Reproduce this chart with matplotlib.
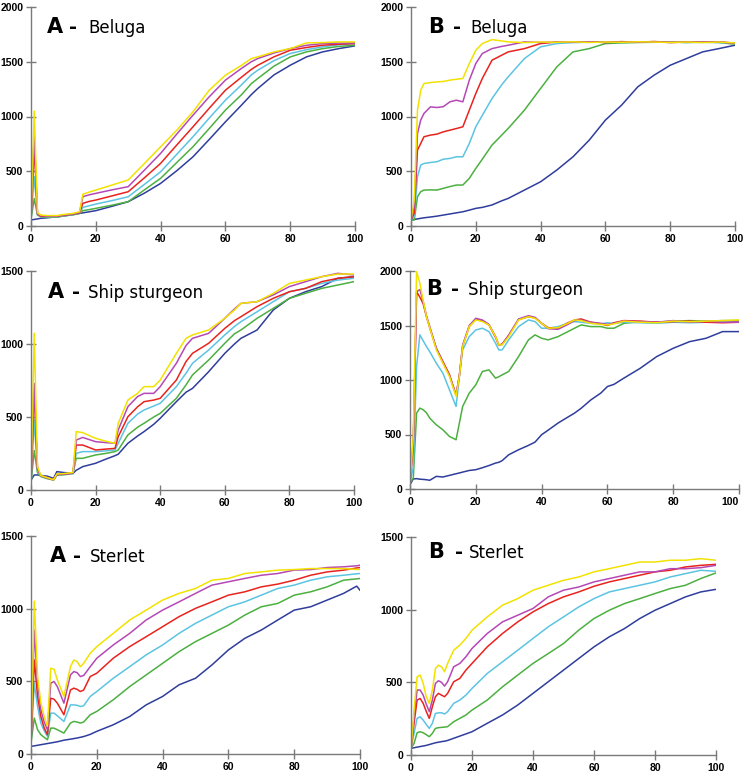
import matplotlib
matplotlib.use("Agg")
import matplotlib.pyplot as plt

# ---------------- data ----------------
SERIES_COLORS = ["#2f3d9c", "#4cb040", "#5cc4e2", "#e8231e", "#b548b5", "#f2e200"]  # blue, green, cyan, red, magenta, yellow

# A - Beluga
A_BELUGA_X = [0, 1, 2, 3, 5, 8, 10, 13, 15, 16, 18, 20, 25, 30, 35, 40, 45, 50, 55, 60, 65, 68, 70, 75, 80, 85, 90, 95, 100]
A_BELUGA_YELLOW = [60, 1050, 120, 100, 95, 95, 105, 115, 130, 290, 310, 328, 374, 420, 571, 723, 875, 1043, 1240, 1377, 1468, 1529, 1544, 1590, 1620, 1672, 1675, 1681, 1681]
A_BELUGA_MAGENTA = [60, 850, 115, 95, 90, 90, 100, 110, 125, 268, 285, 298, 330, 359, 510, 663, 840, 1012, 1180, 1332, 1440, 1500, 1529, 1580, 1620, 1650, 1666, 1670, 1672]
A_BELUGA_RED = [60, 720, 110, 90, 88, 88, 98, 108, 120, 207, 225, 237, 275, 313, 440, 572, 740, 906, 1075, 1240, 1360, 1430, 1468, 1545, 1605, 1630, 1651, 1660, 1666]
A_BELUGA_CYAN = [60, 450, 105, 88, 85, 85, 95, 105, 118, 170, 185, 200, 232, 267, 380, 495, 655, 815, 985, 1149, 1290, 1380, 1423, 1510, 1575, 1610, 1636, 1655, 1666]
A_BELUGA_GREEN = [60, 250, 100, 85, 80, 80, 92, 102, 115, 140, 150, 161, 190, 222, 330, 435, 580, 724, 890, 1058, 1200, 1300, 1347, 1460, 1544, 1590, 1620, 1640, 1651]
A_BELUGA_BLUE = [55, 60, 65, 70, 75, 85, 91, 105, 115, 120, 130, 140, 180, 222, 300, 389, 505, 632, 790, 951, 1105, 1200, 1256, 1380, 1468, 1544, 1590, 1620, 1645]

# B - Beluga
B_BELUGA_X = [0, 1, 2, 3, 4, 6, 8, 10, 12, 14, 16, 18, 20, 22, 25, 28, 30, 35, 40, 45, 50, 55, 60, 65, 70, 75, 80, 85, 90, 95, 100]
B_BELUGA_YELLOW = [55, 237, 1058, 1240, 1301, 1310, 1316, 1320, 1332, 1340, 1347, 1484, 1605, 1666, 1702, 1690, 1681, 1675, 1680, 1678, 1682, 1676, 1680, 1678, 1682, 1680, 1676, 1680, 1675, 1680, 1672]
B_BELUGA_MAGENTA = [55, 176, 845, 967, 1028, 1088, 1082, 1090, 1134, 1149, 1134, 1332, 1484, 1575, 1620, 1640, 1651, 1681, 1676, 1680, 1678, 1682, 1676, 1680, 1678, 1682, 1676, 1680, 1678, 1682, 1670]
B_BELUGA_RED = [55, 116, 693, 754, 815, 830, 839, 860, 875, 890, 906, 1058, 1210, 1347, 1514, 1560, 1590, 1620, 1666, 1680, 1678, 1682, 1676, 1684, 1678, 1685, 1676, 1680, 1678, 1682, 1668]
B_BELUGA_CYAN = [55, 85, 450, 556, 571, 580, 587, 610, 617, 632, 632, 754, 906, 1010, 1164, 1290, 1362, 1529, 1636, 1666, 1675, 1678, 1680, 1676, 1680, 1678, 1680, 1676, 1680, 1676, 1666]
B_BELUGA_GREEN = [55, 55, 268, 313, 328, 330, 328, 344, 360, 374, 374, 435, 526, 610, 739, 830, 891, 1058, 1256, 1453, 1590, 1620, 1666, 1672, 1676, 1678, 1680, 1676, 1678, 1676, 1660]
B_BELUGA_BLUE = [55, 60, 65, 70, 75, 82, 90, 100, 110, 120, 130, 145, 161, 170, 192, 230, 252, 328, 404, 511, 632, 784, 967, 1104, 1271, 1377, 1468, 1529, 1590, 1620, 1651]

# A - Ship sturgeon
A_SHIP_X = [0, 1, 2, 3, 5, 7, 8, 10, 13, 14, 16, 20, 23, 26, 27, 30, 33, 35, 38, 40, 45, 48, 50, 55, 60, 63, 65, 70, 75, 80, 85, 90, 95, 100]
A_SHIP_YELLOW = [46, 1073, 160, 100, 85, 70, 110, 112, 120, 400, 393, 354, 335, 320, 457, 616, 662, 708, 708, 753, 936, 1039, 1062, 1096, 1176, 1233, 1278, 1290, 1347, 1415, 1438, 1461, 1479, 1479]
A_SHIP_MAGENTA = [46, 730, 150, 100, 85, 72, 108, 110, 118, 342, 360, 331, 325, 320, 411, 571, 640, 662, 662, 708, 868, 990, 1039, 1073, 1176, 1240, 1278, 1290, 1336, 1393, 1427, 1461, 1484, 1473]
A_SHIP_RED = [46, 700, 145, 98, 82, 70, 105, 108, 116, 308, 308, 274, 280, 285, 365, 502, 570, 605, 616, 628, 753, 880, 936, 1005, 1107, 1160, 1187, 1256, 1313, 1358, 1381, 1427, 1450, 1461]
A_SHIP_CYAN = [46, 480, 130, 95, 80, 70, 104, 106, 114, 251, 263, 263, 268, 274, 320, 457, 520, 548, 575, 594, 708, 800, 868, 959, 1062, 1120, 1153, 1221, 1290, 1358, 1381, 1415, 1438, 1450]
A_SHIP_GREEN = [46, 270, 120, 92, 78, 68, 102, 104, 112, 217, 217, 240, 250, 263, 274, 377, 430, 457, 500, 525, 628, 720, 788, 890, 1005, 1070, 1096, 1176, 1244, 1313, 1347, 1381, 1404, 1427]
A_SHIP_BLUE = [68, 103, 103, 100, 95, 80, 126, 120, 114, 135, 160, 183, 210, 235, 245, 320, 370, 400, 450, 491, 605, 670, 696, 810, 936, 1000, 1039, 1096, 1233, 1313, 1358, 1393, 1450, 1461]

# B - Ship sturgeon
B_SHIP_X = [0, 1, 2, 3, 4, 5, 6, 8, 10, 12, 14, 15, 16, 18, 20, 22, 24, 26, 27, 28, 30, 33, 36, 38, 40, 42, 45, 48, 50, 52, 55, 58, 60, 62, 65, 70, 75, 80, 85, 90, 95, 100]
B_SHIP_YELLOW = [55, 482, 1994, 1887, 1730, 1581, 1480, 1276, 1154, 1032, 849, 1032, 1307, 1490, 1551, 1536, 1505, 1398, 1322, 1322, 1398, 1551, 1581, 1566, 1520, 1475, 1480, 1520, 1551, 1545, 1520, 1510, 1505, 1515, 1540, 1530, 1525, 1540, 1535, 1540, 1545, 1551]
B_SHIP_MAGENTA = [55, 450, 1810, 1830, 1720, 1590, 1490, 1290, 1160, 1040, 860, 1040, 1320, 1500, 1566, 1550, 1510, 1400, 1320, 1325, 1410, 1560, 1590, 1575, 1520, 1470, 1465, 1510, 1545, 1550, 1530, 1520, 1510, 1520, 1540, 1535, 1530, 1545, 1530, 1540, 1530, 1530]
B_SHIP_RED = [55, 400, 1810, 1760, 1700, 1580, 1480, 1290, 1170, 1050, 860, 1040, 1310, 1490, 1560, 1545, 1505, 1390, 1320, 1330, 1410, 1555, 1580, 1570, 1520, 1480, 1475, 1525, 1550, 1560, 1530, 1515, 1500, 1525, 1545, 1540, 1530, 1535, 1540, 1530, 1525, 1530]
B_SHIP_CYAN = [55, 200, 1124, 1414, 1360, 1307, 1260, 1154, 1062, 910, 757, 1032, 1276, 1398, 1459, 1475, 1444, 1337, 1276, 1276, 1368, 1490, 1551, 1536, 1475, 1475, 1490, 1520, 1536, 1530, 1520, 1515, 1525, 1520, 1530, 1525, 1520, 1530, 1525, 1530, 1535, 1536]
B_SHIP_GREEN = [55, 100, 696, 742, 727, 700, 650, 589, 543, 482, 452, 604, 757, 879, 956, 1078, 1093, 1017, 1030, 1047, 1078, 1215, 1368, 1414, 1383, 1368, 1398, 1444, 1475, 1505, 1490, 1490, 1475, 1475, 1520, 1536, 1530, 1540, 1545, 1540, 1545, 1545]
B_SHIP_BLUE = [40, 92, 95, 90, 88, 85, 80, 116, 110, 125, 140, 147, 155, 170, 177, 195, 215, 238, 245, 260, 314, 360, 400, 430, 498, 540, 605, 660, 696, 740, 818, 880, 940, 960, 1017, 1108, 1215, 1291, 1352, 1383, 1444, 1444]

# A - Sterlet
A_STERLET_X = [0, 1, 2, 3, 4, 5, 6, 7, 8, 10, 12, 13, 14, 15, 16, 18, 20, 25, 30, 35, 40, 45, 50, 55, 60, 65, 70, 75, 80, 85, 90, 95, 99, 100]
A_STERLET_YELLOW = [75, 1052, 533, 350, 258, 190, 590, 583, 510, 396, 601, 647, 636, 601, 624, 693, 739, 830, 922, 990, 1059, 1105, 1139, 1196, 1208, 1242, 1253, 1265, 1269, 1276, 1276, 1276, 1270, 1269]
A_STERLET_MAGENTA = [75, 853, 487, 304, 220, 167, 487, 499, 464, 350, 544, 567, 560, 533, 540, 601, 659, 750, 830, 922, 990, 1047, 1105, 1162, 1185, 1208, 1230, 1242, 1265, 1269, 1283, 1288, 1295, 1299]
A_STERLET_RED = [75, 647, 396, 258, 180, 133, 384, 377, 350, 270, 441, 453, 445, 430, 440, 533, 556, 659, 739, 807, 876, 945, 1002, 1047, 1093, 1116, 1150, 1169, 1196, 1230, 1253, 1265, 1280, 1283]
A_STERLET_CYAN = [75, 487, 327, 213, 160, 121, 281, 281, 263, 224, 338, 338, 335, 327, 332, 396, 430, 521, 601, 682, 750, 830, 899, 956, 1013, 1047, 1093, 1139, 1162, 1196, 1219, 1230, 1240, 1242]
A_STERLET_GREEN = [75, 247, 167, 133, 115, 98, 178, 178, 167, 144, 213, 224, 220, 213, 220, 270, 293, 373, 464, 544, 624, 704, 773, 830, 887, 956, 1013, 1036, 1093, 1116, 1150, 1196, 1205, 1208]
A_STERLET_BLUE = [53, 56, 60, 64, 68, 72, 76, 80, 84, 95, 102, 106, 110, 115, 120, 135, 156, 201, 258, 338, 396, 476, 521, 613, 716, 796, 853, 922, 990, 1013, 1059, 1105, 1155, 1127]

# B - Sterlet
B_STERLET_X = [0, 1, 2, 3, 4, 5, 6, 7, 8, 9, 10, 11, 12, 14, 16, 18, 20, 25, 30, 35, 40, 45, 50, 55, 60, 65, 70, 75, 80, 85, 90, 95, 100]
B_STERLET_YELLOW = [34, 309, 538, 550, 492, 401, 355, 447, 595, 618, 607, 573, 630, 721, 756, 802, 859, 950, 1031, 1076, 1134, 1168, 1202, 1225, 1260, 1282, 1305, 1328, 1328, 1340, 1340, 1351, 1340]
B_STERLET_MAGENTA = [40, 263, 447, 447, 412, 350, 298, 378, 492, 511, 500, 474, 504, 607, 630, 676, 733, 836, 916, 962, 1008, 1088, 1134, 1156, 1191, 1214, 1237, 1260, 1260, 1282, 1282, 1289, 1305]
B_STERLET_RED = [45, 218, 378, 389, 355, 300, 252, 332, 401, 424, 412, 401, 424, 504, 527, 584, 630, 744, 836, 916, 985, 1042, 1088, 1122, 1161, 1191, 1214, 1237, 1260, 1271, 1294, 1305, 1312]
B_STERLET_CYAN = [45, 149, 252, 263, 240, 210, 183, 218, 286, 290, 291, 282, 298, 355, 378, 412, 458, 561, 641, 721, 802, 882, 950, 1019, 1076, 1122, 1145, 1168, 1191, 1225, 1248, 1271, 1264]
B_STERLET_GREEN = [45, 80, 153, 160, 153, 140, 126, 149, 183, 188, 190, 192, 195, 229, 252, 275, 309, 378, 469, 550, 630, 698, 767, 859, 939, 996, 1042, 1076, 1111, 1145, 1168, 1214, 1253]
B_STERLET_BLUE = [46, 50, 54, 58, 62, 66, 72, 78, 84, 88, 92, 95, 100, 115, 130, 145, 160, 218, 275, 344, 424, 504, 584, 664, 744, 813, 870, 939, 996, 1042, 1088, 1122, 1140]

X_TICKS = [0, 20, 40, 60, 80, 100]
Y_TICKS_2000 = [0, 500, 1000, 1500, 2000]
Y_TICKS_1500 = [0, 500, 1000, 1500]

PANEL_LETTERS = ["A", "B", "A", "B", "A", "B"]
PANEL_NAMES = ["Beluga", "Beluga", "Ship sturgeon", "Ship sturgeon", "Sterlet", "Sterlet"]

# ---------------- layout ----------------
W, H = 746, 773
fig = plt.figure(figsize=(W / 100, H / 100), dpi=100)

# (left, top, right, bottom) in image pixels
boxes = [
    (31, 7, 355, 226),
    (411, 7, 735, 226),
    (31, 271, 354, 490),
    (410, 271, 739, 489),
    (31, 536, 360, 754),
    (411, 537, 716, 755),
]
# title positions: letter x, dash x, baseline y, name x
title_pos = [
    (47, 69, 33, 88),
    (428, 453, 33, 470),
    (48, 72, 298, 88),
    (426, 451, 295, 468),
    (50, 73, 562, 90),
    (428, 455, 558, 469),
]

panels = [
    (A_BELUGA_X, [A_BELUGA_BLUE, A_BELUGA_GREEN, A_BELUGA_CYAN, A_BELUGA_RED, A_BELUGA_MAGENTA, A_BELUGA_YELLOW], Y_TICKS_2000),
    (B_BELUGA_X, [B_BELUGA_BLUE, B_BELUGA_GREEN, B_BELUGA_CYAN, B_BELUGA_RED, B_BELUGA_MAGENTA, B_BELUGA_YELLOW], Y_TICKS_2000),
    (A_SHIP_X, [A_SHIP_BLUE, A_SHIP_GREEN, A_SHIP_CYAN, A_SHIP_RED, A_SHIP_MAGENTA, A_SHIP_YELLOW], Y_TICKS_1500),
    (B_SHIP_X, [B_SHIP_BLUE, B_SHIP_GREEN, B_SHIP_CYAN, B_SHIP_RED, B_SHIP_MAGENTA, B_SHIP_YELLOW], Y_TICKS_2000),
    (A_STERLET_X, [A_STERLET_BLUE, A_STERLET_GREEN, A_STERLET_CYAN, A_STERLET_RED, A_STERLET_MAGENTA, A_STERLET_YELLOW], Y_TICKS_1500),
    (B_STERLET_X, [B_STERLET_BLUE, B_STERLET_GREEN, B_STERLET_CYAN, B_STERLET_RED, B_STERLET_MAGENTA, B_STERLET_YELLOW], Y_TICKS_1500),
]

FONT = "Liberation Sans"
TITLE_FONT = "DejaVu Sans"
AX_COLOR = "#7a7a7a"

for i, ((l, t, r, b), (xs, ys_list, yt)) in enumerate(zip(boxes, panels)):
    ax = fig.add_axes([l / W, 1 - b / H, (r - l) / W, (b - t) / H])
    for ys, c in zip(ys_list, SERIES_COLORS):
        ax.plot(xs, ys, color=c, lw=1.1, solid_joinstyle="round")
    ax.set_xlim(0, 100)
    ax.set_ylim(0, yt[-1])
    ax.set_xticks(X_TICKS)
    ax.set_yticks(yt)
    for s in ["top", "right"]:
        ax.spines[s].set_visible(False)
    for s in ["left", "bottom"]:
        ax.spines[s].set_color(AX_COLOR)
        ax.spines[s].set_linewidth(1.0)
    ax.tick_params(direction="inout", length=7, width=1.0, color=AX_COLOR, pad=2,
                   labelsize=7.5, labelcolor="black")
    for lab in ax.get_xticklabels() + ax.get_yticklabels():
        lab.set_fontfamily(FONT)
        lab.set_fontweight("bold")
    if i == 3:
        ax.get_xticklabels()[-1].set_horizontalalignment("right")
    ax.patch.set_alpha(0)

    lx, dx, by, nx = title_pos[i]
    fig.text(lx / W, 1 - by / H, PANEL_LETTERS[i], fontsize=15, fontweight="bold",
             family=TITLE_FONT, va="baseline", ha="left")
    fig.text(dx / W, 1 - by / H, "-", fontsize=14, fontweight="bold",
             family=TITLE_FONT, va="baseline", ha="left")
    fig.text(nx / W, 1 - by / H, PANEL_NAMES[i], fontsize=12, family=TITLE_FONT,
             va="baseline", ha="left")

fig.savefig("out.png", dpi=100)
